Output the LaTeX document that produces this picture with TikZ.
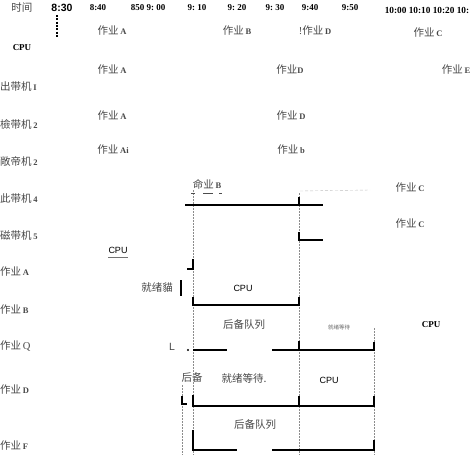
\documentclass[tikz,border=0pt]{standalone}
\usepackage{fontspec}
\setmainfont{Liberation Serif}
\setsansfont{Liberation Sans}
\newfontfamily\cjk{Noto Sans CJK SC}
\newcommand\zy[1]{{\cjk 作业}\,{\bfseries\fontsize{8.5}{9}\selectfont #1}}
\newcommand\smb[1]{{\bfseries\fontsize{8.5}{9}\selectfont #1}}
\tikzset{
  cn/.style={inner sep=0pt, text=black!72, font=\cjk\fontsize{10.5}{12}\selectfont},
  tm/.style={inner sep=0pt, font=\bfseries\fontsize{9}{10}\selectfont},
  lab/.style={inner sep=0pt, text=black!72, font=\fontsize{10.5}{12}\selectfont},
  cpusf/.style={inner sep=0pt, font=\sffamily\fontsize{9}{11}\selectfont},
  thick line/.style={line width=1.6pt, black},
  guide/.style={line width=0.45pt, black!45, dash pattern=on 2pt off 1pt},
}
\begin{document}
\begin{tikzpicture}[x=1pt,y=-1pt]
\useasboundingbox (0,0) rectangle (474,455);
% time row
\node[cn] (shijian) at (22,8) {时间};
\node[inner sep=0pt, font=\sffamily\bfseries\fontsize{10.5}{12}\selectfont] (t830) at (62,8) {8:30};
\node[tm] (t840) at (98,8) {8:40};
\node[tm] (t900) at (148,8) {850 9:\ 00};
\node[tm] (t910) at (197,8) {9:\ 10};
\node[tm] (t920) at (237,8) {9:\ 20};
\node[tm] (t930) at (275,8) {9:\ 30};
\node[tm] (t940) at (310,8) {9:40};
\node[tm] (t950) at (350,8) {9:50};
\node[tm, font=\bfseries\fontsize{9.3}{10}\selectfont] (t1000) at (427,10) {10:00 10:10 10:20 10:};
\coordinate (m1) at (57,15);
\coordinate (m2) at (57,37);
\draw[line width=1.1pt, dash pattern=on 2pt off 1.3pt] (m1) -- (m2);
% top rows of jobs
\node[tm] (cpu0) at (22,48) {CPU};
\node[lab] (r1a) at (112,31) {\zy{A}};
\node[lab] (r1b) at (237,31) {\zy{B}};
\node[lab] (r1d) at (315,31) {!\zy{D}};
\node[lab] (r1c) at (428,33) {\zy{C}};
\node[lab] (r2a) at (112,70) {\zy{A}};
\node[lab] (r2d) at (290,70) {{\cjk 作业}\smb{D}};
\node[lab] (r2e) at (456,70) {\zy{E}};
\node[lab] (r3a) at (112,116) {\zy{A}};
\node[lab] (r3d) at (291,116) {\zy{D}};
\node[lab] (r4a) at (113,150) {\zy{Ai}};
\node[lab] (r4b) at (291,150) {\zy{b}};
% left labels
\node[lab, anchor=west] (l1) at (0,87) {{\cjk 出带机}\,\smb{I}};
\node[lab, anchor=west] (l2) at (0,124) {{\cjk 檢带机}\,\smb{2}};
\node[lab, anchor=west] (l3) at (0,161) {{\cjk 敞帝机}\,\smb{2}};
\node[lab, anchor=west] (l4) at (0,199) {{\cjk 此带机}\,\smb{4}};
\node[lab, anchor=west] (l5) at (0,236) {{\cjk 磁带机}\,\smb{5}};
\node[lab, anchor=west] (l6) at (0,272) {\zy{A}};
\node[lab, anchor=west] (l7) at (0,310) {\zy{B}};
\node[lab, anchor=west] (l8) at (0,346) {{\cjk 作业}\,Q};
\node[lab, anchor=west] (l9) at (0,390) {\zy{D}};
\node[lab, anchor=west] (l10) at (0,446) {\zy{F}};
% right job C labels
\node[lab] (c1) at (410,188) {\zy{C}};
\node[lab] (c2) at (410,224) {\zy{C}};
% middle texts
\node[lab] (mingB) at (207,184) {{\cjk 命业}\,\smb{B}};
\node[cpusf] (cpuu) at (118,250) {CPU};
\coordinate (u1) at (108,257);
\coordinate (u2) at (128,257);
\draw[line width=0.6pt, black!55] (u1) -- (u2);
\node[cn] (jiuxu1) at (157,288) {就绪貓};
\node[cpusf] (cpu1) at (243,288) {CPU};
\node[cn] (hb1) at (244,325) {后备队列};
\node[inner sep=0pt, text=black!60, font=\cjk\fontsize{5.5}{6}\selectfont] (garb) at (339,327) {就绪等待};
\node[tm] (cpu2) at (431,325) {CPU};
\node[lab] (Lchar) at (172,347) {\sffamily L};
\node[cn] (houbei) at (192,378) {后备};
\node[cn] (jiuxu2) at (244,378) {就绪等待.};
\node[cpusf] (cpu3) at (329,380) {CPU};
\node[cn] (hb2) at (255,425) {后备队列};
% guide lines
\coordinate (ga1) at (193,190); \coordinate (ga2) at (193,455);
\coordinate (gb1) at (299,193); \coordinate (gb2) at (299,455);
\coordinate (gc1) at (374,328); \coordinate (gc2) at (374,455);
\coordinate (gd1) at (182,385); \coordinate (gd2) at (182,455);
\draw[guide] (ga1) -- (ga2);
\draw[guide] (gb1) -- (gb2);
\draw[guide] (gc1) -- (gc2);
\draw[guide] (gd1) -- (gd2);
\draw[line width=0.4pt, black!25, dash pattern=on 3pt off 2pt] (300,191) -- (370,190);
\draw[line width=0.9pt, black!70] (191,193) -- (195,193) (203,193) -- (213,193) (219,193) -- (222,193);
% thick lines
\draw[thick line] (185,205) -- (323,205);
\draw[thick line] (299,197) -- (299,205);
\draw[thick line] (299,232) -- (299,240) -- (323,240);
\draw[thick line] (193,259) -- (193,269) -- (187,269);
\draw[thick line] (181,280) -- (181,296);
\draw[thick line] (193,297) -- (193,305) -- (299,305) -- (299,297);
\fill (188,350) circle (1.1pt);
\draw[thick line] (193,350) -- (227,350);
\draw[thick line] (272,350) -- (375,350);
\draw[thick line] (299,341) -- (299,350);
\draw[thick line] (374,342) -- (374,350);
\draw[thick line] (182,396) -- (182,404) -- (187,404);
\draw[thick line] (193,395) -- (193,406) -- (375,406);
\draw[thick line] (299,396) -- (299,406);
\draw[thick line] (374,396) -- (374,406);
\draw[thick line] (193,430) -- (193,450) -- (237,450);
\draw[thick line] (272,450) -- (375,450);
\draw[thick line] (374,440) -- (374,450);
\end{tikzpicture}
\end{document}
